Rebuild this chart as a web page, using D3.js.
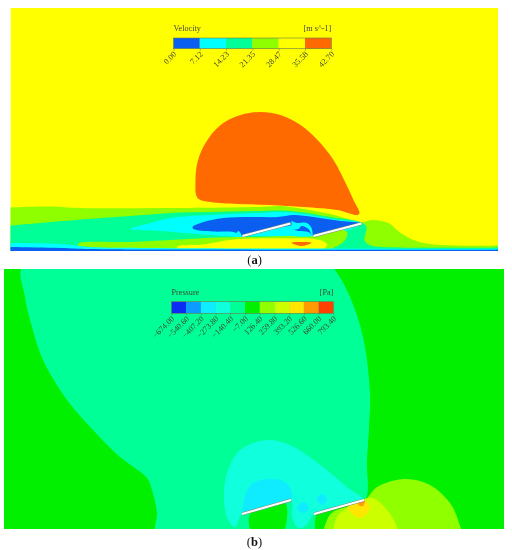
<!DOCTYPE html>
<html>
<head>
<meta charset="utf-8">
<title>Velocity and pressure contours</title>
<script src="https://d3js.org/d3.v7.min.js"></script>
<style>
body { margin: 0; padding: 0; background: #fff; }
svg { display: block; filter: blur(0.35px); }
text { font-family: "Liberation Serif", serif; }
.legend text { font-size: 8.2px; fill: #3f4434; }
.caption { font-size: 12.5px; fill: #111; }
</style>
</head>
<body>
<div id="chart"></div>
<script>

// legend values
var velocityTicks = [0.00, 7.12, 14.23, 21.35, 28.47, 35.58, 42.70];
var pressureTicks = [-674.00, -540.60, -407.20, -273.80, -140.40, -7.00, 126.40, 259.80, 393.20, 526.60, 660.00, 793.40];
var velocityColors = ['#0a5ff0', '#00ffff', '#00ff96', '#8fff00', '#ffff00', '#ff6a00'];
var pressureColors = ['#0a2cf5', '#0c9bff', '#10ecff', '#10ffdc', '#00ff96', '#00f000', '#90ff00', '#ccff00', '#ffe600', '#ff9a00', '#ff4000'];

// velocity contours, [distance along floor, height above floor]
var vOrange = [[187,53],[185,71],[187,89],[195,108],[210,126],[230,136],[250,139],[270,136],[290,126],[307,111],[323,91],[337,64],[343,51],[349,38],[347,36],[327,41],[293,44],[260,46],[227,47],[200,49]];
var vLime = [[-20,43.5],[-5,43.5],[40,44.5],[70,43],[160,43],[246,44],[270,45],[290,42.5],[320,37],[351,29],[362,31],[378,28],[389,19],[403,11],[419,7],[446,5.5],[480,5.3],[520,5.3],[520,-8],[-20,-8]];
var vGreen = [[-20,24],[-5,25],[40,29],[90,33],[120,35],[160,38],[200,39],[246,40],[270,40.5],[290,39],[320,34],[351,28.5],[356,24],[354,11],[359,6],[390,3.5],[440,3.3],[480,3.3],[520,3.3],[520,-8],[-20,-8]];
var vCyan = [[120,22],[140,28],[160,33],[180,35],[210,36.5],[246,38],[275,39],[300,36],[325,31.5],[351,27.5],[330,18],[303,14],[280,14],[246,15],[223,14.5],[200,16],[180,17.5],[150,20]];
var vBlue = [[182,24],[193,29],[213,33],[240,34],[267,34],[283,36],[303,34],[330,30],[351,27.5],[327,21],[303,15],[298,19],[288,20],[280,22],[270,25],[251,20],[232,15],[223,19],[203,19.5],[183,22]];
var vSwirl = [[281,30],[286,28],[296,28],[301,23],[302,14],[298,22],[291,25],[288,22],[276,22],[273,24],[281,26]];
var vFin = [[223,14],[226,18],[228,20],[230,18],[231,14]];
var vLimeStrip = [[68,7.5],[120,9],[160,11],[195,13],[230,14],[246,14],[275,15],[300,14.5],[333,21],[337,18],[333,9],[320,2],[300,-3],[90,0],[68,5]];
var vYellow = [[167,4.5],[193,6.5],[223,11.5],[246,12.5],[280,12.7],[300,12.5],[312,10],[317,6],[312,2],[300,0],[167,2.5]];
var vSpot = [[281,8.3],[291,9],[301,8.3],[296,6],[291,5],[286,6]];
var vCyanStrip = [[-20,8],[-5,8],[50,7],[80,4],[140,3],[300,2.4],[480,2.2],[520,2.2],[520,-8],[-20,-8]];
var vBlueStrip = [[-20,4],[-5,4],[50,3],[80,2],[200,1.4],[480,1.2],[520,1.2],[520,-8],[-20,-8]];
var vBlades = [[[232,15],[280,27.5]], [[303,15],[351,27.5]]];

// pressure contours, same axes
var pSpring = [[20,265],[21,232],[28,202],[39,169],[63,129],[89,99],[116,72],[143,51],[148,39],[153,16],[153,-5],[321,-5],[321,17],[341,23],[361,29],[363,69],[365,102],[366,136],[359,192],[346,232],[331,259],[320,270]];
var pGreenA = [[249,-5],[246,15],[262,20],[281,27],[278,-5]];
var pGreenB = [[313,-5],[313,15],[321,17],[335,20],[330,-5]];
var pTeal = [[231,2],[224,9],[220,29],[223,56],[236,79],[263,89],[286,84],[319,62],[343,42],[359,29],[335,22],[310,15],[304,6],[298,1],[293,2],[288,12],[287,29],[262,22],[238,15]];
var pCyan = [[238,15],[239,22],[241,34],[249,46],[266,50],[281,47],[288,36],[287,29],[262,22]];
var pSpotA = [[293,21],[299,27],[305,22],[300,16]];
var pSpotB = [[313,30],[318,35],[323,30],[318,24]];
var pLime = [[321,-8],[323,9],[329,17],[345,23],[361,29],[373,42],[401,50],[426,44],[446,26],[455,6],[457,-8]];
var pLemon = [[331,-8],[333,12],[343,21],[358,29],[369,31],[383,19],[392,4],[394,-8]];
var pYellow = [[344,21],[349,27],[361,28],[366,21],[356,11]];
var pOrange = [[354,26],[361,28.5],[359,23],[356,23]];
var pBlades = [[[238,15],[287,29]], [[310,15],[360,29]]];

var svg = d3.select('#chart').append('svg')
    .attr('width', 512)
    .attr('height', 550);

var velX = d3.scaleLinear().domain([0, 487.5]).range([10.5, 498]);
var velY = d3.scaleLinear().domain([0, 243]).range([251, 8]);
var preX = d3.scaleLinear().domain([0, 500]).range([4, 504]);
var preY = d3.scaleLinear().domain([0, 260]).range([529, 269]);

var velocityLayers = [
    [vOrange, '#ff6a00'], [vLime, '#8fff00'], [vGreen, '#00ff96'], [vCyan, '#00ffff'], [vBlue, '#0a5ff0'],
    [vSwirl, '#00ffff'], [vFin, '#00ffff'], [vLimeStrip, '#8fff00'], [vYellow, '#ffff00'], [vSpot, '#ff6a00'],
    [vCyanStrip, '#00ffff'], [vBlueStrip, '#0a5ff0']
];
var pressureLayers = [
    [pSpring, '#00ff96'], [pGreenA, '#00f000'], [pGreenB, '#00f000'], [pTeal, '#10ffdc'], [pCyan, '#10ecff'],
    [pSpotA, '#10ecff'], [pSpotB, '#10ecff'], [pLime, '#90ff00'], [pLemon, '#ccff00'], [pYellow, '#ffe600'], [pOrange, '#ff9a00']
];

function drawField(id, background, layers, blades, x, y) {
    var x0 = x.range()[0], x1 = x.range()[1], y0 = y.range()[1], y1 = y.range()[0];
    svg.append('clipPath').attr('id', id)
        .append('rect')
        .attr('x', x0).attr('y', y0)
        .attr('width', x1 - x0).attr('height', y1 - y0);

    var g = svg.append('g').attr('clip-path', 'url(#' + id + ')');
    g.append('rect')
        .attr('x', x0).attr('y', y0)
        .attr('width', x1 - x0).attr('height', y1 - y0)
        .attr('fill', background);

    var shape = d3.line()
        .x(function(d) { return x(d[0]); })
        .y(function(d) { return y(d[1]); })
        .curve(d3.curveCatmullRomClosed.alpha(0.5));

    g.selectAll('path.band')
        .data(layers)
        .enter()
        .append('path')
        .attr('class', 'band')
        .attr('d', function(d) { return shape(d[0]); })
        .attr('fill', function(d) { return d[1]; });

    var straight = d3.line()
        .x(function(d) { return x(d[0]); })
        .y(function(d) { return y(d[1]); });

    // blades, grey edge first and white on top
    g.selectAll('path.edge').data(blades).enter().append('path')
        .attr('class', 'edge')
        .attr('d', straight)
        .attr('stroke', '#7a8a7a')
        .attr('stroke-width', 3);
    g.selectAll('path.blade').data(blades).enter().append('path')
        .attr('class', 'blade')
        .attr('d', straight)
        .attr('stroke', '#fff')
        .attr('stroke-width', 2);
}

function drawLegend(title, unit, ticks, colors, left, right, top, bottom) {
    var scale = d3.scaleLinear().domain([ticks[0], ticks[ticks.length - 1]]).range([left, right]);
    var g = svg.append('g').attr('class', 'legend');

    g.selectAll('rect')
        .data(colors)
        .enter()
        .append('rect')
        .attr('x', function(d, i) { return scale(ticks[i]); })
        .attr('y', top)
        .attr('width', function(d, i) { return scale(ticks[i + 1]) - scale(ticks[i]); })
        .attr('height', bottom - top)
        .attr('fill', function(d) { return d; });

    g.append('rect')
        .attr('x', left).attr('y', top)
        .attr('width', right - left).attr('height', bottom - top)
        .attr('fill', 'none')
        .attr('stroke', '#6f7a4a')
        .attr('stroke-width', 0.6);

    var axis = g.append('g')
        .attr('transform', 'translate(0,' + bottom + ')')
        .call(d3.axisBottom(scale).tickValues(ticks).tickSize(2).tickFormat(d3.format('.2f')));
    axis.select('.domain').remove();
    axis.selectAll('line').attr('stroke', '#6f7a4a').attr('stroke-width', 0.6);
    axis.selectAll('text')
        .attr('y', 0)
        .attr('dy', 0)
        .attr('text-anchor', 'end')
        .attr('transform', 'translate(3,6) rotate(-45)');
    // d3 sets these on the axis group
    axis.attr('font-family', null).attr('font-size', null);

    g.append('text').attr('x', left).attr('y', top - 7).text(title);
    g.append('text').attr('x', right).attr('y', top - 7).attr('text-anchor', 'end').text(unit);
}

function drawCaption(letter, cx, cy) {
    var t = svg.append('text').attr('class', 'caption')
        .attr('x', cx).attr('y', cy).attr('text-anchor', 'middle');
    t.append('tspan').text('(');
    t.append('tspan').attr('font-weight', 700).text(letter);
    t.append('tspan').text(')');
}

drawField('clipVel', '#ffff00', velocityLayers, vBlades, velX, velY);
drawField('clipPre', '#00f000', pressureLayers, pBlades, preX, preY);

drawLegend('Velocity', '[m s^-1]', velocityTicks, velocityColors, 173.5, 331.3, 38, 48.7);
drawLegend('Pressure', '[Pa]', pressureTicks, pressureColors, 171.5, 333.3, 301.7, 313.3);

drawCaption('a', 254.5, 264);
drawCaption('b', 254.5, 546);

</script>
</body>
</html>
